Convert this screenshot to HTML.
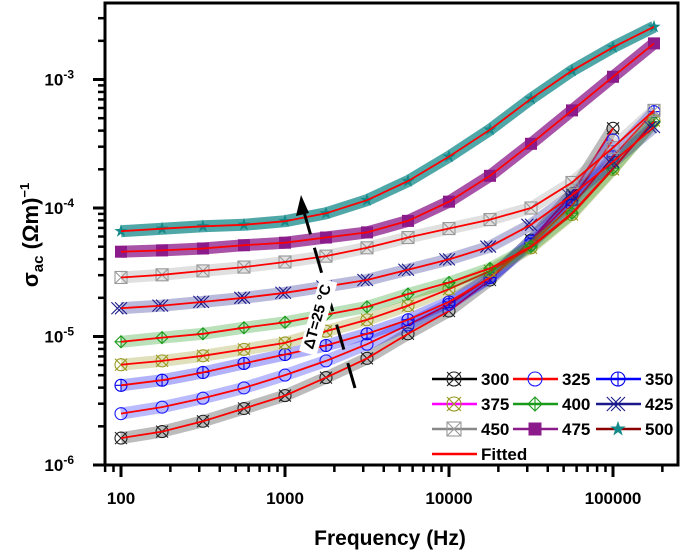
<!DOCTYPE html>
<html><head><meta charset="utf-8"><style>
html,body{margin:0;padding:0;background:#fff;}
svg{display:block;font-family:"Liberation Sans",Arial,sans-serif;}
</style></head><body>
<svg id="chart" width="685" height="550" viewBox="0 0 685 550" xmlns="http://www.w3.org/2000/svg">
<g id="series-layer"></g>
<g id="axes-layer"></g>
</svg>
<script>
// ---- data ----
const freqs = [100,178,316,562,1000,1778,3162,5623,10000,17783,31623,56234,100000,177828];
const seriesNames = ["300","325","350","375","400","425","450","475","500"];
const s300 = [1.62e-6,1.82e-6,2.19e-6,2.75e-6,3.47e-6,4.79e-6,6.76e-6,1.05e-5,1.58e-5,2.75e-5,5.62e-5,1.29e-4,4.17e-4,null];
const s325 = [2.51e-6,2.82e-6,3.31e-6,3.98e-6,5.01e-6,6.46e-6,8.71e-6,1.23e-5,1.78e-5,2.88e-5,5.50e-5,1.15e-4,3.39e-4,null];
const s350 = [4.17e-6,4.57e-6,5.25e-6,6.17e-6,7.24e-6,8.51e-6,1.05e-5,1.35e-5,1.86e-5,2.88e-5,5.25e-5,1.05e-4,2.51e-4,5.62e-4];
const s375 = [6.03e-6,6.46e-6,7.08e-6,7.94e-6,8.91e-6,1.10e-5,1.35e-5,1.74e-5,2.34e-5,3.24e-5,4.90e-5,8.91e-5,2.0e-4,4.79e-4];
const s400 = [9.1e-6,9.8e-6,1.05e-5,1.17e-5,1.29e-5,1.48e-5,1.70e-5,2.14e-5,2.63e-5,3.39e-5,5.01e-5,9.12e-5,2.04e-4,4.68e-4];
const s425 = [1.66e-5,1.74e-5,1.86e-5,2.0e-5,2.19e-5,2.45e-5,2.75e-5,3.31e-5,3.98e-5,5.01e-5,7.41e-5,1.26e-4,2.29e-4,4.27e-4];
const s450 = [2.88e-5,3.02e-5,3.24e-5,3.47e-5,3.80e-5,4.22e-5,4.90e-5,5.89e-5,6.92e-5,8.13e-5,1.0e-4,1.58e-4,2.95e-4,5.75e-4];
const s475 = [4.57e-5,4.68e-5,4.84e-5,5.13e-5,5.37e-5,5.89e-5,6.46e-5,7.94e-5,1.12e-4,1.78e-4,3.16e-4,5.75e-4,1.05e-3,1.91e-3];
const s500 = [6.6e-5,6.9e-5,7.2e-5,7.4e-5,7.9e-5,9.1e-5,1.15e-4,1.62e-4,2.51e-4,4.07e-4,7.08e-4,1.17e-3,1.78e-3,2.57e-3];
const xTickLabels = ["100","1000","10000","100000"];
const xTickValues = [100,1000,10000,100000];
const yTickExps = [-6,-5,-4,-3];

// ---- layout ----
const L=105,R=678,T=3,B=465;
function xs(f){return 121+164*(Math.log10(f)-2);}
function ys(v){return 465-128.5*(Math.log10(v)+6);}
const NS="http://www.w3.org/2000/svg";
function mk(tag,attrs,parent){const e=document.createElementNS(NS,tag);for(const k in attrs)e.setAttribute(k,attrs[k]);parent.appendChild(e);return e;}
const sl=document.getElementById('series-layer');
const al=document.getElementById('axes-layer');

const styles=[
 {d:s300,mk:"circx",c:"#222",lc:"#000"},
 {d:s325,mk:"circ",c:"#1a1aff",lc:"#ff0000"},
 {d:s350,mk:"circplus",c:"#0000ee",lc:"#0000ff"},
 {d:s375,mk:"circx",c:"#999922",lc:"#ff00ff"},
 {d:s400,mk:"diamplus",c:"#1a9a1a",lc:"#1a9a1a"},
 {d:s425,mk:"xx",c:"#1a1a8a",lc:"#1a1a8a"},
 {d:s450,mk:"sqx",c:"#999",lc:"#888"},
 {d:s475,mk:"sqfill",c:"#8b1a8b",lc:"#8b1a8b"},
 {d:s500,mk:"star",c:"#148a8a",lc:"#8b0000"}
];
function marker(type,x,y,c,g,s){
  s=s||6;
  const sw=1.1;
  if(type==="circ"||type==="circx"||type==="circplus"){
    mk('circle',{cx:x,cy:y,r:s,fill:'none',stroke:c,'stroke-width':sw},g);
  }
  if(type==="circx"||type==="sqx"||type==="xx"){
    mk('path',{d:`M${x-s} ${y-s}L${x+s} ${y+s}M${x-s} ${y+s}L${x+s} ${y-s}`,stroke:c,'stroke-width':sw,fill:'none'},g);
  }
  if(type==="xx"){
    mk('path',{d:`M${x-s*1.6} ${y-s}L${x+s*0.4} ${y+s}M${x-s*1.6} ${y+s}L${x+s*0.4} ${y-s}`,stroke:c,'stroke-width':sw,fill:'none'},g);
  }
  if(type==="circplus"||type==="diamplus"){
    mk('path',{d:`M${x-s} ${y}L${x+s} ${y}M${x} ${y-s}L${x} ${y+s}`,stroke:c,'stroke-width':sw,fill:'none'},g);
  }
  if(type==="diamplus"){
    mk('path',{d:`M${x-s} ${y}L${x} ${y-s}L${x+s} ${y}L${x} ${y+s}Z`,stroke:c,'stroke-width':sw,fill:'none'},g);
  }
  if(type==="sqx"){
    mk('rect',{x:x-s,y:y-s,width:2*s,height:2*s,stroke:c,'stroke-width':sw,fill:'none'},g);
  }
  if(type==="sqfill"){
    mk('rect',{x:x-s,y:y-s,width:2*s,height:2*s,fill:c},g);
  }
  if(type==="star"){
    let p="";
    for(let i=0;i<10;i++){const a=-Math.PI/2+i*Math.PI/5;const r=i%2?s*0.45:s*1.15;p+=(i?"L":"M")+(x+r*Math.cos(a)).toFixed(1)+" "+(y+r*Math.sin(a)).toFixed(1);}
    mk('path',{d:p+"Z",fill:c},g);
  }
}

// series
styles.forEach((st,i)=>{
  const g=mk('g',{},sl);
  
  
  let pts=[];
  st.d.forEach((v,j)=>{if(v!==null)pts.push([xs(freqs[j]),ys(v)]);});
  const dl=pts.map((p,k)=>(k?"L":"M")+p[0].toFixed(1)+" "+p[1].toFixed(1)).join("");
  const full=st.mk==="sqfill"||st.mk==="star";
  mk('path',{d:dl,fill:'none',stroke:st.c,'stroke-width':full?12:12,'stroke-opacity':full?0.75:0.3,'stroke-linejoin':'round'},g);
  mk('path',{d:dl,fill:'none',stroke:st.c,'stroke-width':1.2,'stroke-dasharray':'2 3'},g);
  pts.forEach(p=>marker(st.mk,p[0],p[1],st.c,g,6));
  const fit=mk('path',{d:dl,fill:'none',stroke:'#ff0000','stroke-width':1.8},g);
  
  
});

// annotation arrow
const ann=mk('g',{},sl);


mk('line',{x1:355,y1:388,x2:304,y2:212,stroke:'#000','stroke-width':3,'stroke-dasharray':'26 14'},ann);
mk('path',{d:'M301 195 L296 216 L309 213 Z',fill:'#000'},ann);
mk('rect',{x:-38,y:-13,width:76,height:18,fill:'#fff',transform:'translate(322,318) rotate(-74)'},ann);
const at=mk('text',{x:0,y:0,'font-size':15,'font-weight':'bold',fill:'#000','text-anchor':'middle',transform:'translate(322,318) rotate(-74)'},ann);
at.textContent="ΔT=25 °C";

// axes frame
const fr=mk('rect',{x:L,y:T,width:R-L,height:B-T,fill:'none',stroke:'#000','stroke-width':3},al);



// x ticks
for(let e=1;e<=5;e++){
  for(let m=1;m<=9;m++){
    const f=m*Math.pow(10,e);const x=xs(f);
    if(x<L||x>R)continue;
    const len=m===1?12:7;
    mk('line',{x1:x,y1:B,x2:x,y2:B+len,stroke:'#000','stroke-width':m===1?3:2.5},al);
  }
}
xTickValues.forEach((v,i)=>{
  const t=mk('text',{x:xs(v),y:504,'font-size':17,'font-weight':'bold','text-anchor':'middle'},al);
  
  
  t.textContent=xTickLabels[i];
});
// y ticks
for(let e=-6;e<=-3;e++){
  for(let m=1;m<=9;m++){
    const v=m*Math.pow(10,e);const y=ys(v);
    if(y<T||y>B+1)continue;
    const len=m===1?12:7;
    mk('line',{x1:L,y1:y,x2:L-len,y2:y,stroke:'#000','stroke-width':m===1?3:2.5},al);
  }
}
yTickExps.forEach(e=>{
  const t=mk('text',{x:74,y:ys(Math.pow(10,e))+6,'font-size':17,'font-weight':'bold','text-anchor':'end'},al);
  
  
  t.innerHTML='10<tspan dy="-7" font-size="12">'+e+'</tspan>';
});
</script>
<svg style="position:absolute;left:0;top:0" width="685" height="550" xmlns="http://www.w3.org/2000/svg" font-family="Liberation Sans, Arial, sans-serif">
  <text x="390" y="545" font-size="21" font-weight="bold" text-anchor="middle">Frequency (Hz)</text>
  <text transform="translate(38,235) rotate(-90)" font-size="22" font-weight="bold" text-anchor="middle">σ<tspan font-size="15" dy="5">ac</tspan><tspan dy="-5"> (Ωm)</tspan><tspan font-size="13" dy="-9">−1</tspan></text>
  <g font-size="17" font-weight="bold" id="legend"></g>
</svg>
<script>
const legendLabels=["300","325","350","375","400","425","450","475","500"];
const lg=document.getElementById('legend');
const colX=[432,513,596];
const rowY=[379,404,429];
legendLabels.forEach((lab,i)=>{
  const cx=colX[i%3],cy=rowY[Math.floor(i/3)];
  const st=styles[i];
  const g=mk('g',{},lg);
  
  
  mk('line',{x1:cx,y1:cy,x2:cx+45,y2:cy,stroke:st.lc,'stroke-width':2.5},g);
  marker(st.mk,cx+22,cy,st.c,g,st.mk==="sqfill"?6.5:7);
  const t=mk('text',{x:cx+49,y:cy+6},g);
  t.textContent=lab;
});
const fg=mk('g',{},lg);


mk('line',{x1:432,y1:454,x2:477,y2:454,stroke:'#ff0000','stroke-width':2.5},fg);
const ft=mk('text',{x:481,y:460},fg);ft.textContent="Fitted";
</script>
</body></html>
